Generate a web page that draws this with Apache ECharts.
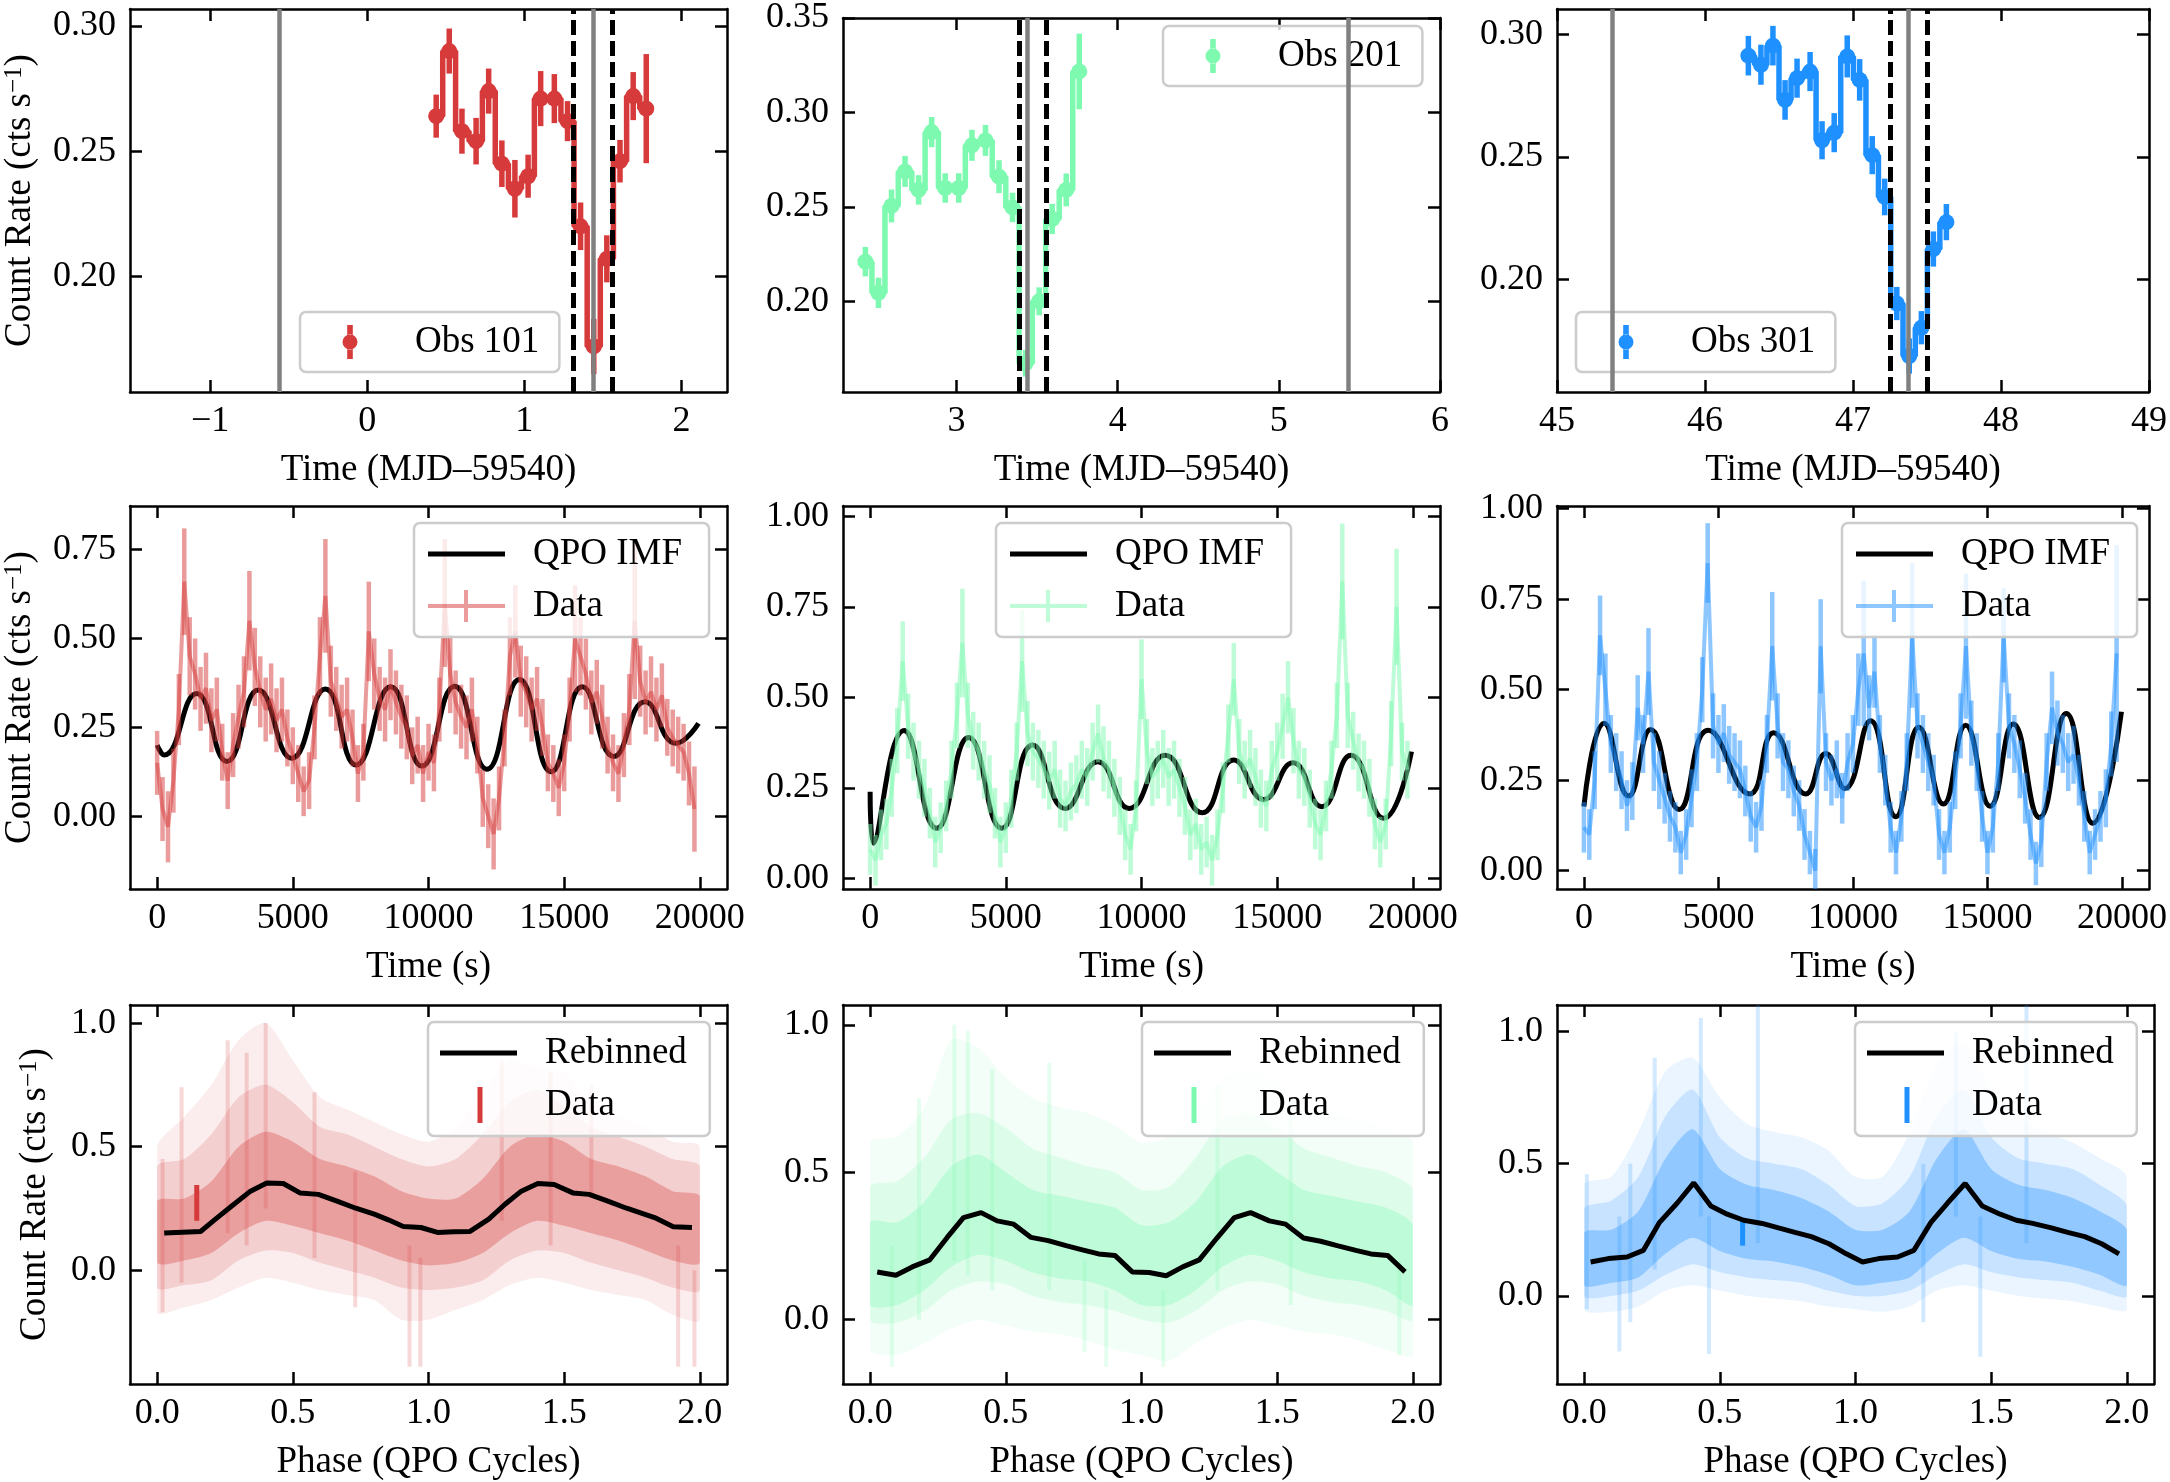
<!DOCTYPE html>
<html>
<head>
<meta charset="utf-8">
<script src="https://cdn.jsdelivr.net/npm/echarts@6/dist/echarts.min.js"></script>
<style>
  html, body { margin: 0; background: #fff; }
  #main { width: 2170px; height: 1482px; }
</style>
</head>
<body>
<div id="main"></div>
<script>
// ---------- top row: binned light curves (MJD-59540) ----------
const obs101Time = [0.439, 0.522, 0.603, 0.693, 0.773, 0.857, 0.940, 1.024, 1.104, 1.191, 1.275, 1.358, 1.442, 1.525, 1.609, 1.693, 1.776];
const obs101Rate = [0.264, 0.290, 0.258, 0.254, 0.274, 0.245, 0.235, 0.240, 0.271, 0.271, 0.262, 0.220, 0.172, 0.207, 0.246, 0.272, 0.267];
const obs101Err = [0.0086, 0.009, 0.009, 0.0093, 0.009, 0.0093, 0.0115, 0.0086, 0.011, 0.0098, 0.008, 0.0095, 0.011, 0.0094, 0.0085, 0.0096, 0.0218];
const obs101Gray = [-0.564, 1.436];
const obs101Dash = [1.31, 1.56];

const obs201Time = [2.435, 2.516, 2.597, 2.681, 2.765, 2.846, 2.930, 3.014, 3.096, 3.180, 3.264, 3.348, 3.429, 3.513, 3.594, 3.681, 3.762];
const obs201Rate = [0.221, 0.2045, 0.2505, 0.2688, 0.259, 0.2896, 0.260, 0.260, 0.2826, 0.2852, 0.266, 0.2497, 0.1672, 0.200, 0.2436, 0.259, 0.3217];
const obs201Err = [0.0078, 0.008, 0.0087, 0.0082, 0.0078, 0.008, 0.0078, 0.0078, 0.0082, 0.0082, 0.0087, 0.0078, 0.007, 0.0074, 0.008, 0.0087, 0.02];
const obs201Gray = [3.435, 5.435];
const obs201Dash = [3.386, 3.559];

const obs301Time = [46.293, 46.378, 46.459, 46.541, 46.622, 46.710, 46.791, 46.873, 46.961, 47.045, 47.130, 47.214, 47.296, 47.380, 47.462, 47.543, 47.631];
const obs301Rate = [0.2914, 0.2877, 0.2955, 0.2733, 0.2822, 0.2849, 0.2568, 0.2599, 0.2911, 0.2815, 0.2507, 0.2336, 0.190, 0.1685, 0.1801, 0.2123, 0.2233];
const obs301Err = [0.0081, 0.0082, 0.0081, 0.0081, 0.008, 0.008, 0.0078, 0.008, 0.0086, 0.0085, 0.0078, 0.0075, 0.0068, 0.0072, 0.0068, 0.0072, 0.0074];
const obs301Gray = [45.37, 47.365];
const obs301Dash = [47.249, 47.499];

// ---------- middle row: light curves (s) and QPO IMF ----------
const midTimes = [0,200,400,600,800,1000,1200,1400,1600,1800,2000,2200,2400,2600,2800,3000,3200,3400,3600,3800,
  4000,4200,4400,4600,4800,5000,5200,5400,5600,5800,6000,6200,6400,6600,6800,7000,7200,7400,7600,7800,
  8000,8200,8400,8600,8800,9000,9200,9400,9600,9800,10000,10200,10400,10600,10800,11000,11200,11400,11600,11800,
  12000,12200,12400,12600,12800,13000,13200,13400,13600,13800,14000,14200,14400,14600,14800,15000,15200,15400,15600,15800,
  16000,16200,16400,16600,16800,17000,17200,17400,17600,17800,18000,18200,18400,18600,18800,19000,19200,19400,19600,19800];

const lc101Rate = [0.15,0.02,-0.03,0.10,0.30,0.66,0.45,0.40,0.33,0.36, 0.27,0.30,0.18,0.10,0.20,0.28,0.35,0.55,0.42,0.35,
  0.30,0.33,0.27,0.30,0.22,0.17,0.12,0.07,0.10,0.25, 0.45,0.62,0.38,0.33,0.28,0.30,0.22,0.12,0.18,0.52,
  0.40,0.33,0.30,0.37,0.32,0.28,0.25,0.17,0.20,0.12, 0.18,0.15,0.30,0.60,0.40,0.32,0.28,0.25,0.30,0.20,
  0.05,0.00,-0.05,0.05,0.22,0.45,0.52,0.38,0.35,0.30, 0.33,0.25,0.15,0.12,0.08,0.15,0.30,0.50,0.45,0.40,
  0.32,0.35,0.28,0.20,0.15,0.12,0.20,0.30,0.55,0.38, 0.32,0.35,0.30,0.34,0.25,0.22,0.20,0.18,0.12,0.02];
const lc101Err = [0.09,0.09,0.10,0.09,0.10,0.15,0.11,0.10,0.09,0.10, 0.09,0.09,0.08,0.08,0.09,0.09,0.10,0.14,0.11,0.10,
  0.09,0.10,0.09,0.09,0.08,0.08,0.08,0.07,0.08,0.09, 0.11,0.16,0.10,0.09,0.09,0.09,0.08,0.08,0.08,0.14,
  0.10,0.09,0.09,0.10,0.09,0.09,0.09,0.08,0.08,0.08, 0.08,0.08,0.09,0.18,0.11,0.09,0.09,0.09,0.09,0.08,
  0.08,0.09,0.10,0.09,0.08,0.11,0.13,0.10,0.10,0.09, 0.09,0.08,0.08,0.08,0.08,0.08,0.09,0.15,0.11,0.10,
  0.09,0.09,0.09,0.08,0.08,0.08,0.09,0.10,0.22,0.10, 0.09,0.10,0.09,0.09,0.08,0.08,0.08,0.08,0.09,0.12];

const lc201Rate = [0.08,0.05,0.12,0.15,0.25,0.38,0.60,0.42,0.35,0.30, 0.25,0.18,0.10,0.14,0.20,0.30,0.45,0.65,0.45,0.38,
  0.35,0.30,0.26,0.18,0.10,0.14,0.22,0.35,0.60,0.40, 0.35,0.33,0.30,0.27,0.30,0.22,0.20,0.24,0.26,0.30,
  0.28,0.35,0.40,0.33,0.30,0.25,0.20,0.12,0.08,0.20, 0.55,0.35,0.28,0.30,0.33,0.28,0.30,0.25,0.20,0.12,
  0.15,0.08,0.10,0.05,0.12,0.25,0.40,0.55,0.35,0.30, 0.33,0.28,0.22,0.20,0.30,0.35,0.42,0.50,0.38,0.30,
  0.28,0.22,0.15,0.12,0.20,0.30,0.45,0.82,0.45,0.38, 0.32,0.30,0.25,0.15,0.10,0.15,0.40,0.75,0.35,0.30];
const lc201Err = [0.07,0.07,0.07,0.07,0.08,0.09,0.11,0.09,0.08,0.08, 0.08,0.07,0.07,0.07,0.07,0.08,0.09,0.15,0.09,0.08,
  0.08,0.08,0.08,0.07,0.07,0.07,0.08,0.08,0.14,0.09, 0.08,0.08,0.08,0.08,0.08,0.08,0.07,0.08,0.08,0.08,
  0.08,0.08,0.08,0.09,0.08,0.08,0.08,0.07,0.07,0.07, 0.11,0.09,0.08,0.08,0.08,0.08,0.08,0.08,0.08,0.07,
  0.07,0.07,0.07,0.07,0.07,0.07,0.08,0.10,0.09,0.08, 0.08,0.08,0.08,0.07,0.08,0.08,0.09,0.10,0.09,0.08,
  0.08,0.08,0.07,0.07,0.07,0.08,0.09,0.16,0.09,0.08, 0.08,0.08,0.08,0.07,0.07,0.07,0.09,0.16,0.08,0.08];

const lc301Rate = [0.12,0.10,0.25,0.65,0.50,0.35,0.30,0.25,0.18,0.22, 0.45,0.35,0.55,0.30,0.25,0.20,0.15,0.12,0.05,0.10,
  0.20,0.30,0.50,0.85,0.40,0.35,0.38,0.32,0.30,0.28, 0.22,0.15,0.12,0.18,0.35,0.62,0.40,0.30,0.28,0.22,
  0.18,0.10,0.05,0.00,0.62,0.30,0.25,0.28,0.20,0.30, 0.35,0.50,0.60,0.45,0.55,0.35,0.25,0.12,0.05,0.15,
  0.30,0.65,0.40,0.35,0.30,0.25,0.10,0.05,0.12,0.25, 0.40,0.62,0.38,0.30,0.15,0.05,0.12,0.30,0.65,0.40,
  0.35,0.28,0.20,0.10,0.02,0.08,0.30,0.45,0.38,0.35, 0.30,0.32,0.25,0.15,0.05,0.10,0.15,0.20,0.35,0.60];
const lc301Err = [0.07,0.07,0.08,0.11,0.10,0.08,0.08,0.08,0.07,0.08, 0.09,0.08,0.12,0.08,0.08,0.07,0.07,0.07,0.06,0.07,
  0.08,0.08,0.09,0.11,0.09,0.08,0.08,0.08,0.08,0.08, 0.07,0.07,0.07,0.07,0.08,0.15,0.09,0.08,0.08,0.07,
  0.07,0.07,0.06,0.06,0.13,0.08,0.07,0.08,0.07,0.08, 0.08,0.10,0.20,0.09,0.10,0.08,0.07,0.07,0.06,0.07,
  0.08,0.20,0.09,0.08,0.08,0.07,0.07,0.06,0.07,0.08, 0.09,0.20,0.09,0.08,0.07,0.06,0.07,0.08,0.13,0.09,
  0.08,0.08,0.07,0.07,0.06,0.07,0.08,0.10,0.09,0.08, 0.08,0.08,0.07,0.07,0.06,0.07,0.07,0.08,0.09,0.30];

// QPO IMF turning points
const imf101Time = [0,257,1455,2570,3730,4960,6200,7330,8610,9760,10960,12150,13350,14520,15670,16830,17980,19120,19950];
const imf101Rate = [0.200,0.172,0.345,0.154,0.355,0.163,0.358,0.144,0.364,0.141,0.366,0.132,0.385,0.125,0.364,0.168,0.322,0.205,0.261];
const imf201Time = [0,120,1250,2450,3630,4850,5990,7190,8390,9550,10870,12240,13400,14500,15580,16640,17720,18920,19950];
const imf201Rate = [0.239,0.097,0.408,0.138,0.389,0.138,0.368,0.193,0.322,0.193,0.340,0.181,0.327,0.218,0.319,0.198,0.340,0.166,0.350];
const imf301Time = [0,750,1660,2480,3540,4620,6160,7050,8250,8990,9700,10650,11590,12450,13360,14190,15100,15960,16930,17930,18920,19980];
const imf301Rate = [0.177,0.407,0.206,0.390,0.169,0.388,0.212,0.381,0.212,0.324,0.227,0.414,0.149,0.396,0.184,0.402,0.178,0.405,0.147,0.434,0.131,0.439];

// ---------- bottom row: phase-folded profiles ----------
const reb101Phase = [0.026,0.160,0.215,0.275,0.344,0.404,0.465,0.526,0.594,0.663,0.732,0.800,0.852,0.907,0.972,1.033,1.093,1.153,1.222,1.282,1.342,1.403,1.463,1.532,1.592,1.661,1.730,1.833,1.902,1.971];
const reb101Rate = [0.151,0.157,0.207,0.260,0.320,0.353,0.351,0.313,0.307,0.280,0.251,0.227,0.204,0.177,0.173,0.153,0.156,0.157,0.207,0.267,0.320,0.351,0.347,0.313,0.307,0.280,0.251,0.213,0.176,0.173];
const reb201Phase = [0.026,0.095,0.155,0.220,0.284,0.344,0.409,0.468,0.529,0.593,0.656,0.722,0.782,0.842,0.902,0.966,1.028,1.091,1.152,1.213,1.278,1.342,1.402,1.471,1.531,1.597,1.660,1.721,1.790,1.845,1.907,1.971];
const reb201Rate = [0.162,0.151,0.179,0.203,0.279,0.346,0.363,0.335,0.324,0.279,0.268,0.251,0.237,0.223,0.218,0.162,0.160,0.149,0.179,0.203,0.277,0.346,0.363,0.335,0.324,0.277,0.266,0.251,0.235,0.223,0.218,0.162];
const reb301Phase = [0.024,0.089,0.158,0.218,0.278,0.344,0.404,0.467,0.527,0.588,0.656,0.716,0.777,0.837,0.902,0.966,1.026,1.086,1.155,1.215,1.278,1.340,1.404,1.467,1.533,1.593,1.653,1.722,1.782,1.845,1.907,1.971];
const reb301Rate = [0.128,0.141,0.147,0.172,0.278,0.352,0.427,0.340,0.309,0.286,0.274,0.257,0.240,0.224,0.197,0.159,0.128,0.141,0.147,0.172,0.278,0.352,0.425,0.340,0.309,0.286,0.274,0.257,0.240,0.224,0.197,0.159];

// spread of the folded data points (outer / middle / core envelopes)
const cloudPhase = [0,0.1,0.2,0.3,0.4,0.5,0.6,0.7,0.8,0.9,1.0,1.1,1.2,1.3,1.4,1.5,1.6,1.7,1.8,1.9,2.0];
const cloud101OuterHi = [0.50,0.62,0.75,0.93,1.00,0.85,0.70,0.65,0.60,0.55,0.52,0.58,0.72,0.85,0.82,0.80,0.68,0.62,0.58,0.52,0.50];
const cloud101MidHi   = [0.42,0.45,0.55,0.70,0.75,0.68,0.58,0.55,0.50,0.45,0.42,0.45,0.55,0.68,0.73,0.66,0.58,0.54,0.50,0.45,0.42];
const cloud101CoreHi  = [0.28,0.29,0.36,0.50,0.56,0.52,0.45,0.42,0.38,0.32,0.29,0.29,0.37,0.50,0.55,0.52,0.45,0.42,0.38,0.32,0.30];
const cloud101CoreLo  = [0.03,0.04,0.07,0.15,0.20,0.18,0.15,0.12,0.08,0.04,0.02,0.03,0.07,0.15,0.20,0.18,0.15,0.12,0.08,0.04,0.03];
const cloud101MidLo   = [-0.07,-0.06,-0.04,0.04,0.08,0.07,0.03,0.00,-0.03,-0.07,-0.08,-0.07,-0.04,0.04,0.08,0.07,0.03,0.00,-0.03,-0.07,-0.08];
const cloud101OuterLo = [-0.17,-0.15,-0.12,-0.07,-0.03,-0.05,-0.08,-0.10,-0.12,-0.20,-0.20,-0.16,-0.12,-0.06,-0.03,-0.05,-0.08,-0.10,-0.12,-0.18,-0.20];

const cloud201OuterHi = [0.60,0.62,0.72,0.95,0.92,0.82,0.75,0.72,0.70,0.66,0.60,0.62,0.70,0.82,0.85,0.80,0.72,0.70,0.68,0.65,0.60];
const cloud201MidHi   = [0.45,0.47,0.55,0.68,0.70,0.65,0.58,0.55,0.52,0.50,0.44,0.45,0.55,0.68,0.70,0.65,0.58,0.55,0.52,0.50,0.44];
const cloud201CoreHi  = [0.33,0.33,0.40,0.52,0.56,0.50,0.44,0.42,0.40,0.38,0.32,0.33,0.40,0.52,0.56,0.50,0.44,0.42,0.40,0.38,0.32];
const cloud201CoreLo  = [0.05,0.05,0.10,0.18,0.22,0.20,0.16,0.14,0.13,0.10,0.05,0.05,0.10,0.18,0.22,0.20,0.16,0.14,0.13,0.10,0.05];
const cloud201MidLo   = [0.00,-0.01,0.03,0.10,0.13,0.12,0.08,0.06,0.05,0.03,0.00,-0.01,0.03,0.10,0.13,0.12,0.08,0.06,0.05,0.03,0.00];
const cloud201OuterLo = [-0.10,-0.12,-0.08,-0.03,0.00,-0.02,-0.04,-0.05,-0.07,-0.10,-0.12,-0.14,-0.08,-0.03,0.00,-0.02,-0.04,-0.05,-0.07,-0.10,-0.12];

const cloud301OuterHi = [0.42,0.45,0.62,0.85,0.90,0.75,0.65,0.62,0.60,0.55,0.45,0.45,0.62,0.88,0.95,0.78,0.68,0.62,0.58,0.52,0.45];
const cloud301MidHi   = [0.33,0.36,0.45,0.68,0.78,0.60,0.52,0.50,0.48,0.42,0.34,0.35,0.45,0.68,0.78,0.60,0.52,0.50,0.48,0.42,0.34];
const cloud301CoreHi  = [0.24,0.25,0.32,0.52,0.63,0.48,0.42,0.40,0.37,0.32,0.25,0.25,0.32,0.52,0.63,0.48,0.42,0.40,0.37,0.32,0.25];
const cloud301CoreLo  = [0.04,0.05,0.07,0.16,0.22,0.17,0.14,0.13,0.11,0.08,0.04,0.05,0.07,0.16,0.22,0.17,0.14,0.13,0.11,0.08,0.04];
const cloud301MidLo   = [0.00,0.00,0.02,0.08,0.12,0.09,0.07,0.06,0.05,0.02,0.00,0.00,0.02,0.08,0.12,0.09,0.07,0.06,0.05,0.02,0.00];
const cloud301OuterLo = [-0.05,-0.06,-0.04,0.02,0.04,0.02,0.00,-0.01,-0.02,-0.04,-0.05,-0.06,-0.04,0.02,0.04,0.02,0.00,-0.01,-0.02,-0.04,-0.05];

// individual long error bars sticking out of the cloud
const spike101Phase = [0.02,0.09,0.26,0.33,0.40,0.58,0.73,0.93,0.97,1.27,1.45,1.60,1.92,1.98];
const spike101Lo = [-0.17,-0.05,0.15,0.10,0.25,0.05,-0.15,-0.39,-0.39,0.20,0.10,0.30,-0.39,-0.39];
const spike101Hi = [0.45,0.74,0.93,0.88,1.00,0.72,0.40,0.10,0.05,0.85,0.80,0.75,0.10,0.00];
const spike201Phase = [0.08,0.18,0.31,0.36,0.45,0.66,0.79,0.87,1.08,1.28,1.55,1.95];
const spike201Lo = [-0.16,0.00,0.20,0.15,0.10,0.10,-0.11,-0.16,-0.16,0.10,0.05,-0.12];
const spike201Hi = [0.25,0.75,1.00,0.98,0.85,0.87,0.20,0.10,0.10,0.80,0.75,0.20];
const spike301Phase = [0.01,0.13,0.17,0.26,0.43,0.46,0.64,1.25,1.37,1.46,1.63];
const spike301Lo = [-0.05,-0.21,-0.10,0.10,0.30,-0.22,0.20,-0.10,0.30,-0.23,0.20];
const spike301Hi = [0.46,0.30,0.50,0.90,1.05,0.30,1.10,0.50,1.00,0.30,1.10];
// the one opaque bar visible in the folded panels
const solid101 = [0.146, 0.20, 0.345];
const solid301 = [0.584, 0.19, 0.284];

// ---------- tick labels ----------
const tlXTicks = [-1, 0, 1, 2];
const tcXTicks = [3, 4, 5, 6];
const trXTicks = [45, 46, 47, 48, 49];
const tlYTicks = [0.20, 0.25, 0.30];
const tcYTicks = [0.20, 0.25, 0.30, 0.35];
const trYTicks = [0.20, 0.25, 0.30];
const midXTicks = [0, 5000, 10000, 15000, 20000];
const mlYTicks = [0, 0.25, 0.5, 0.75];
const mcYTicks = [0, 0.25, 0.5, 0.75, 1.0];
const mrYTicks = [0, 0.25, 0.5, 0.75, 1.0];
const botXTicks = [0, 0.5, 1.0, 1.5, 2.0];
const botYTicks = [0, 0.5, 1.0];

// ---------- style ----------
const FONT = 'Liberation Serif';
const FS = 36;      // tick labels
const FS_NAME = 37; // axis titles and legends
const RED = '#d63a3a', GREEN = '#7df9b0', BLUE = '#1e90ff';
function rgba(hex, a) {
  const n = parseInt(hex.slice(1), 16);
  return 'rgba(' + (n >> 16 & 255) + ',' + (n >> 8 & 255) + ',' + (n & 255) + ',' + a + ')';
}
const colLeft = [130, 843, 1557];
const rowTop = [9, 506, 1005];
const W = 597, H = 383;

const fmtInt = v => (v < 0 ? '\u2212' + Math.abs(v) : String(v));
const fmt2 = v => v.toFixed(2);
const fmt1 = v => v.toFixed(1);

const grids = [], xAxes = [], yAxes = [], series = [], legends = [];

function addPanel(gi, xr, yr, xt, yt, xf, yf, xName, yNameGap) {
  grids.push({ left: colLeft[gi % 3], top: rowTop[Math.floor(gi / 3)], width: W, height: H });
  const line = { show: true, onZero: false, lineStyle: { color: '#000', width: 2.5 } };
  const tick = (vals) => ({ show: true, inside: true, length: 12, customValues: vals, lineStyle: { color: '#000', width: 2.5 } });
  const lab = (vals, f, m) => ({ show: true, customValues: vals, formatter: f, margin: m, color: '#000', fontFamily: FONT, fontSize: FS });
  xAxes.push({
    type: 'value', gridIndex: gi, position: 'bottom', min: xr[0], max: xr[1],
    axisLine: line, axisTick: tick(xt), axisLabel: lab(xt, xf, 12), splitLine: { show: false },
    name: xName, nameLocation: 'middle', nameGap: 60,
    nameTextStyle: { fontFamily: FONT, fontSize: FS_NAME, color: '#000' }
  });
  xAxes.push({
    type: 'value', gridIndex: gi, position: 'top', min: xr[0], max: xr[1],
    axisLine: line, axisTick: tick(xt), axisLabel: { show: false }, splitLine: { show: false }
  });
  const yMain = {
    type: 'value', gridIndex: gi, position: 'left', min: yr[0], max: yr[1],
    axisLine: line, axisTick: tick(yt), axisLabel: lab(yt, yf, 14), splitLine: { show: false }
  };
  if (yNameGap) {
    Object.assign(yMain, {
      name: 'Count Rate (cts s{sup|\u22121})', nameLocation: 'middle', nameRotate: 90, nameGap: yNameGap,
      nameTextStyle: { fontFamily: FONT, fontSize: FS_NAME, color: '#000',
        rich: { sup: { fontFamily: FONT, fontSize: 25, color: '#000', verticalAlign: 'top' } } }
    });
  }
  yAxes.push(yMain);
  yAxes.push({
    type: 'value', gridIndex: gi, position: 'right', min: yr[0], max: yr[1],
    axisLine: line, axisTick: tick(yt), axisLabel: { show: false }, splitLine: { show: false }
  });
}

function rangeSeries(gi, xs, lo, hi, color, width, z, name) {
  return {
    type: 'custom', name: name, xAxisIndex: 2 * gi, yAxisIndex: 2 * gi, z: z, clip: true, silent: true,
    data: xs.map((x, i) => [x, lo[i], hi[i]]),
    encode: { x: 0, y: [1, 2] },
    renderItem: (params, api) => {
      const a = api.coord([api.value(0), api.value(1)]);
      const b = api.coord([api.value(0), api.value(2)]);
      return { type: 'line', shape: { x1: a[0], y1: a[1], x2: b[0], y2: b[1] }, style: { stroke: color, lineWidth: width } };
    }
  };
}
function errSeries(gi, xs, ys, es, color, width, z) {
  return rangeSeries(gi, xs, ys.map((y, i) => y - es[i]), ys.map((y, i) => y + es[i]), color, width, z);
}
function vlineSeries(gi, gray, dash) {
  const items = gray.map(x => ({ xAxis: x, lineStyle: { color: '#808080', width: 4.5, type: 'solid' } }))
    .concat(dash.map(x => ({ xAxis: x, lineStyle: { color: '#000', width: 5, type: [15, 6] } })));
  return {
    type: 'line', xAxisIndex: 2 * gi, yAxisIndex: 2 * gi, data: [], z: 1, silent: true,
    markLine: { silent: true, symbol: ['none', 'none'], label: { show: false }, data: items, animation: false }
  };
}
function cloudSeries(gi, name, layers) {
  return {
    type: 'custom', name: name, xAxisIndex: 2 * gi, yAxisIndex: 2 * gi, z: 2, clip: true, silent: true,
    data: [[cloudPhase[0], layers[0].lo[0], layers[0].hi[0]]],
    encode: { x: 0, y: [1, 2] },
    renderItem: (params, api) => {
      // keep the smoothed outline inside the phase range of the data
      const xL = api.coord([cloudPhase[0], 0])[0];
      const xR = api.coord([cloudPhase[cloudPhase.length - 1], 0])[0];
      const bounds = [[xL, -1e5], [xR, 1e5]];
      return {
        type: 'group',
        children: layers.map(L => {
          const pts = cloudPhase.map((p, j) => api.coord([p, L.hi[j]]));
          for (let j = cloudPhase.length - 1; j >= 0; j--) pts.push(api.coord([cloudPhase[j], L.lo[j]]));
          return { type: 'polygon', shape: { points: pts, smooth: 0.25, smoothConstraint: bounds }, style: { fill: L.color } };
        })
      };
    }
  };
}

// legend icons (100 x 40 boxes; tiny anchors fix the bounding box)
const ANCHOR = 'M0,0h0.01v0.01h-0.01z M99.99,39.99h0.01v0.01h-0.01z ';
const ICON_OBS = 'path://' + ANCHOR + 'M37.2,3h5.6v10h-5.6z M37.2,27h5.6v10h-5.6z M32.5,20a7.5,7.5 0 1,0 15,0a7.5,7.5 0 1,0 -15,0z';
const ICON_LINE = 'path://' + ANCHOR + 'M0,17.5h77v5h-77z';
const ICON_DATA = 'path://' + ANCHOR + 'M0,18h36v4h-36z M40,18h37v4h-37z M36,4h4v32h-4z';
const ICON_BAR = 'path://' + ANCHOR + 'M37.5,2h5v36h-5z';

function legendBox(left, top, items, padding) {
  return {
    left: left, top: top, orient: 'vertical', selectedMode: false,
    data: items, itemWidth: 100, itemHeight: 40, itemGap: 12, padding: padding,
    backgroundColor: 'rgba(255,255,255,0.8)', borderColor: '#cccccc', borderWidth: 2.5, borderRadius: 6,
    itemStyle: { borderWidth: 0 },
    textStyle: { fontFamily: FONT, fontSize: FS_NAME, color: '#000' },
    formatter: n => n.split('|')[0]
  };
}

// ---------- top row ----------
const topPanels = [
  { t: obs101Time, r: obs101Rate, e: obs101Err, g: obs101Gray, d: obs101Dash, c: RED, name: 'Obs 101',
    xr: [-1.51, 2.29], yr: [0.1538, 0.3068], xt: tlXTicks, yt: tlYTicks, leg: [300, 312] },
  { t: obs201Time, r: obs201Rate, e: obs201Err, g: obs201Gray, d: obs201Dash, c: GREEN, name: 'Obs 201',
    xr: [2.296, 6.0], yr: [0.152, 0.35], xt: tcXTicks, yt: tcYTicks, leg: [1163, 26] },
  { t: obs301Time, r: obs301Rate, e: obs301Err, g: obs301Gray, d: obs301Dash, c: BLUE, name: 'Obs 301',
    xr: [45, 49], yr: [0.1538, 0.3105], xt: trXTicks, yt: trYTicks, leg: [1576, 312] }
];
topPanels.forEach((P, k) => {
  const gi = k;
  addPanel(gi, P.xr, P.yr, P.xt, P.yt, fmtInt, fmt2, 'Time (MJD\u201359540)', k === 0 ? 91 : 0);
  series.push(vlineSeries(gi, P.g, P.d));
  series.push(errSeries(gi, P.t, P.r, P.e, P.c, 5.5, 3));
  series.push({
    type: 'line', name: P.name, xAxisIndex: 2 * gi, yAxisIndex: 2 * gi, step: 'middle', z: 4,
    data: P.t.map((x, i) => [x, P.r[i]]),
    symbol: 'circle', symbolSize: 16, showSymbol: true,
    itemStyle: { color: P.c }, lineStyle: { color: P.c, width: 5.5 }
  });
  legends.push(legendBox(P.leg[0], P.leg[1], [{ name: P.name, icon: ICON_OBS, itemStyle: { color: P.c } }], [10, 20, 10, 10]));
});

// ---------- middle row ----------
const midPanels = [
  { r: lc101Rate, e: lc101Err, it: imf101Time, ir: imf101Rate, c: RED, key: 'r', yr: [-0.205, 0.873], yt: mlYTicks, leg: [414, 523] },
  { r: lc201Rate, e: lc201Err, it: imf201Time, ir: imf201Rate, c: GREEN, key: 'g', yr: [-0.0295, 1.0285], yt: mcYTicks, leg: [996, 523] },
  { r: lc301Rate, e: lc301Err, it: imf301Time, ir: imf301Rate, c: BLUE, key: 'b', yr: [-0.0506, 1.0074], yt: mrYTicks, leg: [1842, 523] }
];
midPanels.forEach((P, k) => {
  const gi = 3 + k;
  addPanel(gi, [-1000, 21000], P.yr, midXTicks, P.yt, fmtInt, fmt2, 'Time (s)', k === 0 ? 91 : 0);
  series.push({
    type: 'line', name: 'QPO IMF|' + P.key, xAxisIndex: 2 * gi, yAxisIndex: 2 * gi, z: 2,
    data: P.it.map((x, i) => [x, P.ir[i]]), smooth: 0.5, symbol: 'none',
    lineStyle: { color: '#000', width: 5 }, itemStyle: { color: '#000' }
  });
  series.push(errSeries(gi, midTimes, P.r, P.e, rgba(P.c, 0.5), 4.5, 3));
  series.push({
    type: 'line', name: 'Data|' + P.key, xAxisIndex: 2 * gi, yAxisIndex: 2 * gi, z: 3,
    data: midTimes.map((x, i) => [x, P.r[i]]), symbol: 'none',
    lineStyle: { color: rgba(P.c, 0.5), width: 4 }, itemStyle: { color: rgba(P.c, 0.5) }
  });
  legends.push(legendBox(P.leg[0], P.leg[1], [
    { name: 'QPO IMF|' + P.key, icon: ICON_LINE, itemStyle: { color: '#000' } },
    { name: 'Data|' + P.key, icon: ICON_DATA, itemStyle: { color: rgba(P.c, 0.5) } }
  ], [11, 27, 11, 14]));
});

// ---------- bottom row ----------
const botPanels = [
  { c: RED, key: 'r', yr: [-0.46, 1.073], rp: reb101Phase, rr: reb101Rate,
    env: [[cloud101OuterHi, cloud101OuterLo, 0.09], [cloud101MidHi, cloud101MidLo, 0.17], [cloud101CoreHi, cloud101CoreLo, 0.32]],
    sp: spike101Phase, sl: spike101Lo, sh: spike101Hi, solid: solid101, leg: [428, 1022], gap: 76 },
  { c: GREEN, key: 'g', yr: [-0.218, 1.067], rp: reb201Phase, rr: reb201Rate,
    env: [[cloud201OuterHi, cloud201OuterLo, 0.1], [cloud201MidHi, cloud201MidLo, 0.18], [cloud201CoreHi, cloud201CoreLo, 0.32]],
    sp: spike201Phase, sl: spike201Lo, sh: spike201Hi, solid: null, leg: [1142, 1022], gap: 0 },
  { c: BLUE, key: 'b', yr: [-0.333, 1.0996], rp: reb301Phase, rr: reb301Rate,
    env: [[cloud301OuterHi, cloud301OuterLo, 0.09], [cloud301MidHi, cloud301MidLo, 0.17], [cloud301CoreHi, cloud301CoreLo, 0.32]],
    sp: spike301Phase, sl: spike301Lo, sh: spike301Hi, solid: solid301, leg: [1855, 1022], gap: 0 }
];
botPanels.forEach((P, k) => {
  const gi = 6 + k;
  addPanel(gi, [-0.1, 2.1], P.yr, botXTicks, botYTicks, fmt1, fmt1, 'Phase (QPO Cycles)', P.gap);
  series.push(cloudSeries(gi, 'Data|b' + P.key, P.env.map(e => ({ hi: e[0], lo: e[1], color: rgba(P.c, e[2]) }))));
  series.push(rangeSeries(gi, P.sp, P.sl, P.sh, rgba(P.c, 0.2), 4, 3));
  if (P.solid) series.push(rangeSeries(gi, [P.solid[0]], [P.solid[1]], [P.solid[2]], P.c, 5, 4));
  series.push({
    type: 'line', name: 'Rebinned|' + P.key, xAxisIndex: 2 * gi, yAxisIndex: 2 * gi, z: 5,
    data: P.rp.map((x, i) => [x, P.rr[i]]), symbol: 'none',
    lineStyle: { color: '#000', width: 5 }, itemStyle: { color: '#000' }
  });
  legends.push(legendBox(P.leg[0], P.leg[1], [
    { name: 'Rebinned|' + P.key, icon: ICON_LINE, itemStyle: { color: '#000' } },
    { name: 'Data|b' + P.key, icon: ICON_BAR, itemStyle: { color: P.c } }
  ], [11, 23, 11, 12]));
});

const chart = echarts.init(document.getElementById('main'));
chart.setOption({
  backgroundColor: '#fff',
  animation: false,
  grid: grids,
  xAxis: xAxes,
  yAxis: yAxes,
  legend: legends,
  series: series
});
</script>
</body>
</html>
